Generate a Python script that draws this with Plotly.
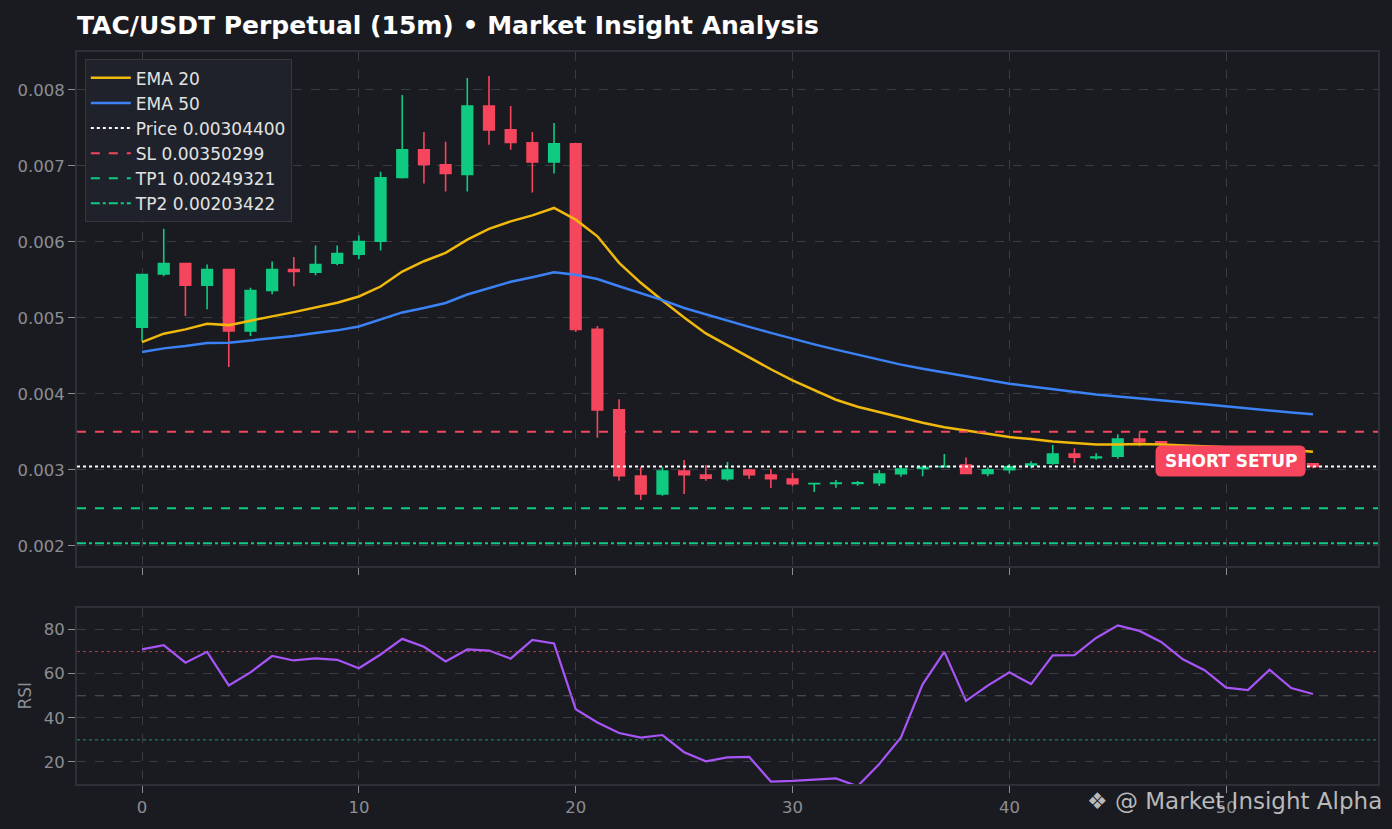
import plotly.graph_objects as go
from plotly.subplots import make_subplots

# candles (15m bars, index 0..54)
bars = list(range(55))

opens = [0.004879, 0.005580, 0.005715, 0.005431, 0.005637, 0.004827, 0.005361, 0.005637, 0.005601, 0.005720,
         0.005838, 0.006008, 0.006848, 0.007212, 0.007015, 0.006888, 0.007790, 0.007475, 0.007304, 0.007054,
         0.007291, 0.004849, 0.003789, 0.002919, 0.002683, 0.002985, 0.002932, 0.002884, 0.002998, 0.002932,
         0.002880, 0.002818, 0.002822, 0.002820, 0.002831, 0.002949, 0.003018, 0.003040, 0.003063, 0.002954,
         0.003002, 0.003065, 0.003086, 0.003208, 0.003160, 0.003178, 0.003405, 0.003369, 0.003300, 0.003250,
         0.003230, 0.003150, 0.003140, 0.003200, 0.003080]
highs = [0.005580, 0.006175, 0.005715, 0.005702, 0.005646, 0.005396, 0.005742, 0.005803, 0.005952, 0.005952,
         0.006083, 0.006923, 0.007934, 0.007448, 0.007317, 0.008157, 0.008184, 0.007790, 0.007448, 0.007567,
         0.007300, 0.004892, 0.003930, 0.003041, 0.003033, 0.003129, 0.003063, 0.003103, 0.003011, 0.003011,
         0.002958, 0.002827, 0.002866, 0.002853, 0.002998, 0.003063, 0.003054, 0.003208, 0.003164, 0.003033,
         0.003077, 0.003112, 0.003326, 0.003283, 0.003217, 0.003470, 0.003493, 0.003375, 0.003310, 0.003280,
         0.003250, 0.003190, 0.003230, 0.003220, 0.003090]
lows = [0.004691, 0.005549, 0.005024, 0.005115, 0.004354, 0.004761, 0.005312, 0.005417, 0.005562, 0.005693,
        0.005772, 0.005886, 0.006835, 0.006770, 0.006665, 0.006665, 0.007278, 0.007212, 0.006651, 0.006901,
        0.004813, 0.003422, 0.002857, 0.002604, 0.002660, 0.002683, 0.002857, 0.002857, 0.002880, 0.002761,
        0.002788, 0.002709, 0.002765, 0.002792, 0.002788, 0.002910, 0.002915, 0.003035, 0.002945, 0.002915,
        0.002954, 0.003020, 0.003067, 0.003086, 0.003133, 0.003146, 0.003309, 0.003300, 0.003220, 0.003200,
        0.003120, 0.003100, 0.003120, 0.003070, 0.003020]
closes = [0.005571, 0.005715, 0.005431, 0.005637, 0.004827, 0.005361, 0.005637, 0.005610, 0.005702, 0.005847,
          0.006004, 0.006844, 0.007212, 0.007019, 0.006901, 0.007790, 0.007475, 0.007308, 0.007054, 0.007291,
          0.004849, 0.003789, 0.002923, 0.002683, 0.002985, 0.002936, 0.002889, 0.002998, 0.002936, 0.002884,
          0.002818, 0.002819, 0.002827, 0.002830, 0.002945, 0.003011, 0.003030, 0.003045, 0.002954, 0.003002,
          0.003041, 0.003077, 0.003208, 0.003165, 0.003170, 0.003405, 0.003369, 0.003340, 0.003250, 0.003230,
          0.003150, 0.003140, 0.003200, 0.003080, 0.003044]

ema20 = [0.004682, 0.004792, 0.004849, 0.004924, 0.004905, 0.004958, 0.005020, 0.005076, 0.005142, 0.005199,
         0.005282, 0.005413, 0.005610, 0.005746, 0.005856, 0.006030, 0.006171, 0.006271, 0.006349, 0.006447,
         0.006293, 0.006074, 0.005725, 0.005462, 0.005230, 0.005006, 0.004796, 0.004639, 0.004488, 0.004324,
         0.004179, 0.004048, 0.003923, 0.003831, 0.003759, 0.003687, 0.003621, 0.003562, 0.003516, 0.003477,
         0.003431, 0.003405, 0.003372, 0.003352, 0.003333, 0.003333, 0.003339, 0.003333, 0.003319, 0.003309,
         0.003300, 0.003287, 0.003273, 0.003260, 0.003238]
ema50 = [0.004551, 0.004599, 0.004630, 0.004669, 0.004674, 0.004701, 0.004731, 0.004761, 0.004800, 0.004836,
         0.004888, 0.004980, 0.005072, 0.005131, 0.005197, 0.005308, 0.005396, 0.005475, 0.005536, 0.005601,
         0.005567, 0.005512, 0.005417, 0.005328, 0.005234, 0.005131, 0.005046, 0.004960, 0.004882, 0.004803,
         0.004724, 0.004652, 0.004582, 0.004514, 0.004448, 0.004385, 0.004330, 0.004280, 0.004228, 0.004179,
         0.004133, 0.004097, 0.004061, 0.004026, 0.003992, 0.003965, 0.003943, 0.003918, 0.003891, 0.003864,
         0.003834, 0.003808, 0.003782, 0.003755, 0.003733]

rsi = [71.0, 72.9, 65.0, 69.9, 54.7, 60.6, 68.0, 66.0, 66.9, 66.3,
       62.5, 68.7, 75.8, 72.2, 65.6, 71.0, 70.5, 66.8, 75.3, 73.7,
       43.9, 37.9, 33.1, 31.0, 32.2, 24.4, 20.3, 22.1, 22.3, 11.1,
       11.4, 11.9, 12.5, 9.0, 19.1, 31.1, 55.2, 69.9, 47.7, 54.6,
       60.6, 55.3, 68.3, 68.4, 76.2, 81.9, 79.4, 74.4, 66.5, 61.6,
       53.7, 52.6, 61.8, 53.5, 50.8]

price = 0.00304400
stop_loss = 0.00350299
tp1 = 0.00249321
tp2 = 0.00203422

BG = '#1a1b20'
GRID = '#3a3c42'
FRAME = '#2e3037'
TICK = '#8b8e94'
GREEN = '#0ecb81'
RED = '#f6465d'
FONT = 'DejaVu Sans'

fig = make_subplots(rows=2, cols=1, shared_xaxes=True)

fig.add_trace(go.Candlestick(x=bars, open=opens, high=highs, low=lows, close=closes,
                             increasing=dict(line=dict(color=GREEN, width=1.6), fillcolor=GREEN),
                             decreasing=dict(line=dict(color=RED, width=1.6), fillcolor=RED),
                             showlegend=False, hoverinfo='skip'), row=1, col=1)
fig.add_trace(go.Scatter(x=bars, y=ema20, mode='lines', name='EMA 20',
                         line=dict(color='#f0b90b', width=2.5)), row=1, col=1)
fig.add_trace(go.Scatter(x=bars, y=ema50, mode='lines', name='EMA 50',
                         line=dict(color='#3b82f6', width=2.5)), row=1, col=1)

# trade levels
levels = [
    (price, f'Price {price:.8f}', '#ffffff', 'dot'),
    (stop_loss, f'SL {stop_loss:.8f}', RED, 'dash'),
    (tp1, f'TP1 {tp1:.8f}', GREEN, 'dash'),
    (tp2, f'TP2 {tp2:.8f}', GREEN, 'dashdot'),
]
for val, label, col, dash in levels:
    fig.add_hline(y=val, line=dict(color=col, width=2, dash=dash), row=1, col=1,
                  showlegend=True, name=label)

fig.add_trace(go.Scatter(x=bars, y=rsi, mode='lines', showlegend=False,
                         line=dict(color='#a855f7', width=2.2)), row=2, col=1)
fig.add_hline(y=70, line=dict(color='rgba(225,65,85,0.8)', width=1, dash='dot'), row=2, col=1)
fig.add_hline(y=30, line=dict(color='rgba(14,190,120,0.8)', width=1, dash='dot'), row=2, col=1)
fig.add_hline(y=50, line=dict(color='#55575d', width=1, dash='dash'), row=2, col=1)

# SHORT SETUP badge
fig.add_shape(type='path', xref='x', yref='y', xsizemode='pixel', ysizemode='pixel',
              xanchor=50.2, yanchor=0.003116,
              path='M -69,-15.5 L 69,-15.5 Q 75,-15.5 75,-9.5 L 75,9.5 Q 75,15.5 69,15.5 '
                   'L -69,15.5 Q -75,15.5 -75,9.5 L -75,-9.5 Q -75,-15.5 -69,-15.5 Z',
              fillcolor=RED, line=dict(width=0), layer='above')
fig.add_annotation(x=50.2, y=0.003116, xref='x', yref='y', text='<b>SHORT SETUP</b>',
                   showarrow=False, font=dict(family=FONT, size=17, color='white'))

# watermark
fig.add_annotation(x=1, y=-0.0232, xref='paper', yref='paper', xanchor='right', yanchor='middle',
                   xshift=6, text='❖ @ Market Insight Alpha', showarrow=False,
                   font=dict(family=FONT, size=23, color='rgba(215,215,215,0.85)'))

axis_common = dict(showgrid=True, gridcolor=GRID, griddash='dash', gridwidth=1,
                   showline=True, linecolor=FRAME, linewidth=2, mirror=True,
                   ticks='outside', ticklen=7, tickcolor=TICK, zeroline=False,
                   tickfont=dict(family=FONT, size=16.5, color=TICK))

fig.update_layout(
    width=1392, height=829,
    paper_bgcolor=BG, plot_bgcolor=BG,
    margin=dict(l=77, r=14, t=52, b=43),
    title=dict(text='<b>TAC/USDT Perpetual (15m) • Market Insight Analysis</b>',
               x=0.0553, xanchor='left', y=0.97, yanchor='middle',
               font=dict(family=FONT, size=25, color='white')),
    font=dict(family=FONT, color=TICK),
    legend=dict(x=0.006, y=0.99, xanchor='left', yanchor='top', itemwidth=40,
                bgcolor='rgba(32,35,43,0.92)', bordercolor='#34373e', borderwidth=1,
                font=dict(family=FONT, size=17, color='#e2e2e2')),
    showlegend=True,
)

fig.update_xaxes(axis_common)
fig.update_yaxes(axis_common)
fig.update_xaxes(range=[-3, 57], tickvals=[0, 10, 20, 30, 40, 50], rangeslider_visible=False)
fig.update_xaxes(domain=[0, 1], showticklabels=False, row=1, col=1)
fig.update_yaxes(domain=[0.2984, 1], range=[0.00174, 0.0085],
                 tickvals=[0.002, 0.003, 0.004, 0.005, 0.006, 0.007, 0.008], tickformat='.3f',
                 row=1, col=1)
fig.update_yaxes(domain=[0, 0.2411], range=[10, 90], tickvals=[20, 40, 60, 80],
                 title=dict(text='RSI', font=dict(family=FONT, size=17, color=TICK), standoff=8),
                 row=2, col=1)

# drop the page margin so the figure sits flush in the window
page_js = ("document.body.style.margin='0';document.body.style.overflow='hidden';"
           "document.body.style.background='" + BG + "';")
fig.write_html('out.html', post_script=page_js, config={'displayModeBar': False})
